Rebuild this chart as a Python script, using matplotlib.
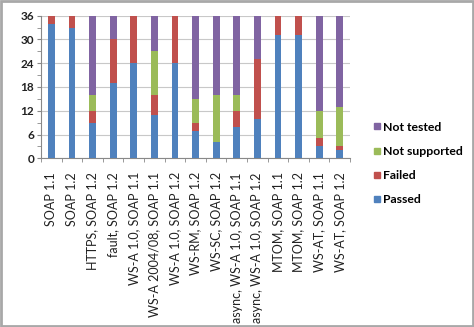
import matplotlib
matplotlib.use("Agg")
import matplotlib.pyplot as plt
from matplotlib.patches import Rectangle
from matplotlib.lines import Line2D
import numpy as np

categories = ["SOAP 1.1", "SOAP 1.2", "HTTPS, SOAP 1.2", "fault, SOAP 1.2",
              "WS-A 1.0, SOAP 1.1", "WS-A 2004/08, SOAP 1.1", "WS-A 1.0, SOAP 1.2",
              "WS-RM, SOAP 1.2", "WS-SC, SOAP 1.2", "async, WS-A 1.0, SOAP 1.1",
              "async, WS-A 1.0, SOAP 1.2", "MTOM, SOAP 1.1", "MTOM, SOAP 1.2",
              "WS-AT, SOAP 1.1", "WS-AT, SOAP 1.2"]
passed        = [34, 33, 9, 19, 24, 11, 24, 7, 4, 8, 10, 31, 31, 3, 2]
failed        = [2, 3, 3, 11, 12, 5, 12, 2, 0, 4, 15, 5, 5, 2, 1]
not_supported = [0, 0, 4, 0, 0, 11, 0, 6, 12, 4, 0, 0, 0, 7, 10]
not_tested    = [0, 0, 20, 6, 0, 9, 0, 21, 20, 20, 11, 0, 0, 24, 23]
series_names = ["Passed", "Failed", "Not supported", "Not tested"]
colors = ["#4F81BD", "#C0504D", "#9BBB59", "#8064A2"]
yticks = [0, 6, 12, 18, 24, 30, 36]

plt.rcParams['font.family'] = ['Lato', 'DejaVu Sans']

fig = plt.figure(figsize=(4.74, 3.27), dpi=100)
ax = fig.add_axes([0.0865, 0.516, 0.652, 0.436])

x = np.arange(len(categories))
bottom = np.zeros(len(categories))
series = [passed, failed, not_supported, not_tested]
for vals, name, c in zip(series, series_names, colors):
    ax.bar(x, vals, width=0.33, bottom=bottom, color=c, label=name, zorder=3)
    bottom += np.array(vals)

ax.set_xlim(-0.5, len(categories) - 0.5)
ax.set_ylim(0, 36)
ax.set_yticks(yticks)
ax.set_yticklabels([str(v) for v in yticks], fontsize=8.5, fontweight='bold', color='#222222')
ax.set_yticks(np.arange(3, 36, 6), minor=True)
ax.yaxis.grid(True, which='major', color='#c8c8c8', linewidth=0.8, zorder=0)
ax.set_xticks(x)
ax.set_xticklabels(categories, rotation=90, fontsize=9, color='#222222')
ax.set_xticks(np.arange(-0.5, len(categories), 1.0), minor=True)
ax.tick_params(axis='x', which='major', length=0, pad=10)
ax.tick_params(axis='x', which='minor', length=3, color='#888888')
ax.tick_params(axis='y', which='both', length=3, color='#888888', pad=2)
for s in ['top', 'right']:
    ax.spines[s].set_visible(False)
ax.spines['left'].set_color('#888888')
ax.spines['bottom'].set_color('#888888')

handles = [Line2D([], [], marker='s', linestyle='', markersize=5,
                  markerfacecolor=c, markeredgecolor=c) for c in colors]
leg = fig.legend(handles[::-1], series_names[::-1], loc='center left',
                 bbox_to_anchor=(0.76, 0.50), frameon=False,
                 prop={'size': 8.8, 'weight': 'bold'}, labelspacing=1.08,
                 handletextpad=0.0, handlelength=1.0)

fig.patches.append(Rectangle((0.003, 0.004), 0.994, 0.992, transform=fig.transFigure,
                             fill=False, edgecolor='#a8a8a8', linewidth=2.0))

fig.savefig("out.png", dpi=100)
